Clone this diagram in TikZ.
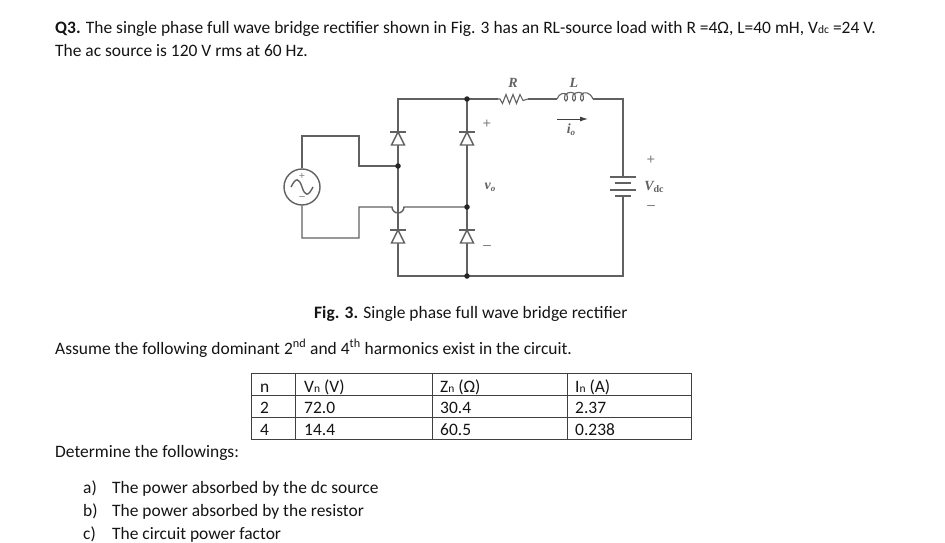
\documentclass[tikz,border=0pt]{standalone}
\usepackage{fontspec}
\setmainfont{Carlito}
\usetikzlibrary{arrows.meta}
\newfontfamily\figfont{Liberation Serif}
\tikzset{
  x=1pt,y=1pt,
  txt/.style={anchor=base west,inner sep=0pt,font=\fontsize{17.45}{19}\selectfont,text=black!92},
  cell/.style={anchor=base west,inner sep=0pt,font=\fontsize{17.45}{19}\selectfont,text=black!92},
  wire/.style={draw=black!62,line width=1.4pt},
  rule/.style={draw=black!75,line width=0.9pt},
  dot/.style={circle,fill=black!85,inner sep=0pt,minimum size=5.5pt},
  lab/.style={inner sep=0pt,font=\figfont\itshape\bfseries\fontsize{14}{15}\selectfont,text=black!62},
  sgn/.style={inner sep=0pt,font=\figfont\bfseries\fontsize{15}{15}\selectfont,text=black!50},
}
\newcommand{\sm}[1]{{\fontsize{11.5}{12}\selectfont #1}}
\newcommand{\listitem}[2]{\makebox[29pt][l]{#1}#2}
\newcommand{\diodeat}[1]{%
  \draw[wire,fill=white] (#1)+(-6.5,7)--+(6.5,7)--+(0,-6)--cycle;
  \draw[wire] (#1)+(-8,-6)--+(8,-6);}
\begin{document}
\begin{tikzpicture}[yscale=-1]
\useasboundingbox (0,0) rectangle (945,543);
% coordinates
\coordinate (tl) at (398,99); \coordinate (tr) at (467,99);
\coordinate (bl) at (398,276); \coordinate (br) at (467,276);
\coordinate (j1) at (398,166); \coordinate (j2) at (467,207);
\coordinate (d1) at (398,138); \coordinate (d2) at (467,138);
\coordinate (d3) at (398,236); \coordinate (d4) at (467,236);
\coordinate (s1) at (302,136); \coordinate (s2) at (359,136); \coordinate (s3) at (359,166);
\coordinate (s4) at (302,238); \coordinate (s5) at (359,238); \coordinate (s6) at (359,207);
\coordinate (h1) at (392,207); \coordinate (h2) at (404,207);
\coordinate (rA) at (498,99); \coordinate (rB) at (528,99);
\coordinate (lA) at (557,99); \coordinate (lB) at (593,99);
\coordinate (c1) at (623,99); \coordinate (c2) at (623,276);
\coordinate (b1) at (623,177); \coordinate (b4) at (623,196);
\node[circle,draw=black!62,line width=1.4pt,minimum size=36pt,inner sep=0pt] (src) at (302,187) {};
% wires
\draw[wire] (src.north) -- (s1) -- (s2) -- (s3) -- (j1);
\draw[wire] (src.south) -- (s4) -- (s5) -- (s6) -- (h1) arc[start angle=180,end angle=0,radius=6] -- (j2);
\draw[wire] (tr) -- (tl) -- (bl) -- (br) -- (c2) -- (b4);
\draw[wire,line width=1.7pt] (tr) -- (br);
\draw[wire] (b1) -- (c1) -- (lB);
\draw[wire] (lA) -- (rB);
\draw[wire] (rA) -- (tr);
\draw[wire,line width=1.1pt] (rA) -- ++(2,0) -- ++(2.5,4.5) -- ++(3.5,-9) -- ++(3.5,9) -- ++(3.5,-9) -- ++(3.5,9) -- ++(3.5,-9) -- ++(3,6) -- (rB);
\draw[wire,line width=1.1pt] (lA) .. controls (559,93) and (565,92) .. (567,95)
  .. controls (569,103) and (563,103) .. (565,95)
  .. controls (568,91) and (575,92) .. (575,95)
  .. controls (577,103) and (571,103) .. (573,95)
  .. controls (576,91) and (583,92) .. (583,95)
  .. controls (585,103) and (579,103) .. (581,95)
  .. controls (584,91) and (590,92) .. (lB);
\diodeat{d1}\diodeat{d2}\diodeat{d3}\diodeat{d4}
\node[dot] (ntr) at (tr) {}; \node[dot] (nj1) at (j1) {}; \node[dot] (nj2) at (j2) {}; \node[dot] (nbr) at (br) {};
% source symbol
\draw[wire] (291,187) .. controls (296,177) and (299,178) .. (302,187) .. controls (305,196) and (308,197) .. (313,187);
\node[sgn,font=\figfont\bfseries\fontsize{11}{11}\selectfont] (sp) at (302,176) {+};
\node[sgn,font=\figfont\bfseries\fontsize{11}{11}\selectfont] (sm) at (302,198) {\textendash};
% battery
\draw[wire] (610,177)--(636,177);
\draw[wire] (615,183)--(631,183);
\draw[wire] (610,190)--(636,190);
\draw[wire] (615,196)--(631,196);
% current arrow
\coordinate (ia) at (557,119); \coordinate (ib) at (588,119);
\draw[draw=black!75,line width=1pt,-{Latex[length=8pt,width=5pt]}] (ia) -- (ib);
% labels
\node[lab] (lr) at (513,83) {R};
\node[lab] (ll) at (574,83) {L};
\node[lab] (lio) at (571,130) {i\raisebox{-2pt}{\fontsize{9}{9}\selectfont o}};
\node[lab] (lvo) at (490,187) {v\raisebox{-2pt}{\fontsize{9}{9}\selectfont o}};
\node[lab] (lvd) at (654,187) {V\raisebox{-2pt}{\fontsize{10}{10}\selectfont\upshape dc}};
\node[sgn] (vp) at (487,124) {+};
\node[sgn] (vm) at (487,247) {\textendash};
\node[sgn] (dp) at (651,160) {+};
\node[sgn] (dm) at (651,207) {\textendash};
% text
\node[txt] (t1) at (55,34) {\textbf{Q3.} The single phase full wave bridge rectifier shown in Fig. 3 has an RL-source load with R =4Ω, L=40 mH, V\sm{dc} =24 V.};
\node[txt] (t2) at (55,57) {The ac source is 120 V rms at 60 Hz.};
\node[txt] (t3) at (314,318) {\textbf{Fig. 3.} Single phase full wave bridge rectifier};
\node[txt] (t4) at (55,354) {Assume the following dominant 2\textsuperscript{nd} and 4\textsuperscript{th} harmonics exist in the circuit.};
\node[txt] (t5) at (55,457) {Determine the followings:};
\node[txt] (a1) at (83,493) {\listitem{a)}{The power absorbed by the dc source}};
\node[txt] (a2) at (83,516) {\listitem{b)}{The power absorbed by the resistor}};
\node[txt] (a3) at (83,539) {\listitem{c)}{The circuit power factor}};
% table
\draw[rule] (251,373) rectangle (691,439);
\draw[rule] (251,395)--(691,395);
\draw[rule] (251,417)--(691,417);
\draw[rule] (295,373)--(295,439);
\draw[rule] (432,373)--(432,439);
\draw[rule] (567,373)--(567,439);
\node[cell] (c11) at (260,392) {n};
\node[cell] (c12) at (304,392) {V\sm{n} (V)};
\node[cell] (c13) at (440,392) {Z\sm{n} (Ω)};
\node[cell] (c14) at (575,392) {I\sm{n} (A)};
\node[cell] (c21) at (260,413) {2};
\node[cell] (c22) at (304,413) {72.0};
\node[cell] (c23) at (440,413) {30.4};
\node[cell] (c24) at (575,413) {2.37};
\node[cell] (c31) at (260,435) {4};
\node[cell] (c32) at (304,435) {14.4};
\node[cell] (c33) at (440,435) {60.5};
\node[cell] (c34) at (575,435) {0.238};
\end{tikzpicture}
\end{document}
